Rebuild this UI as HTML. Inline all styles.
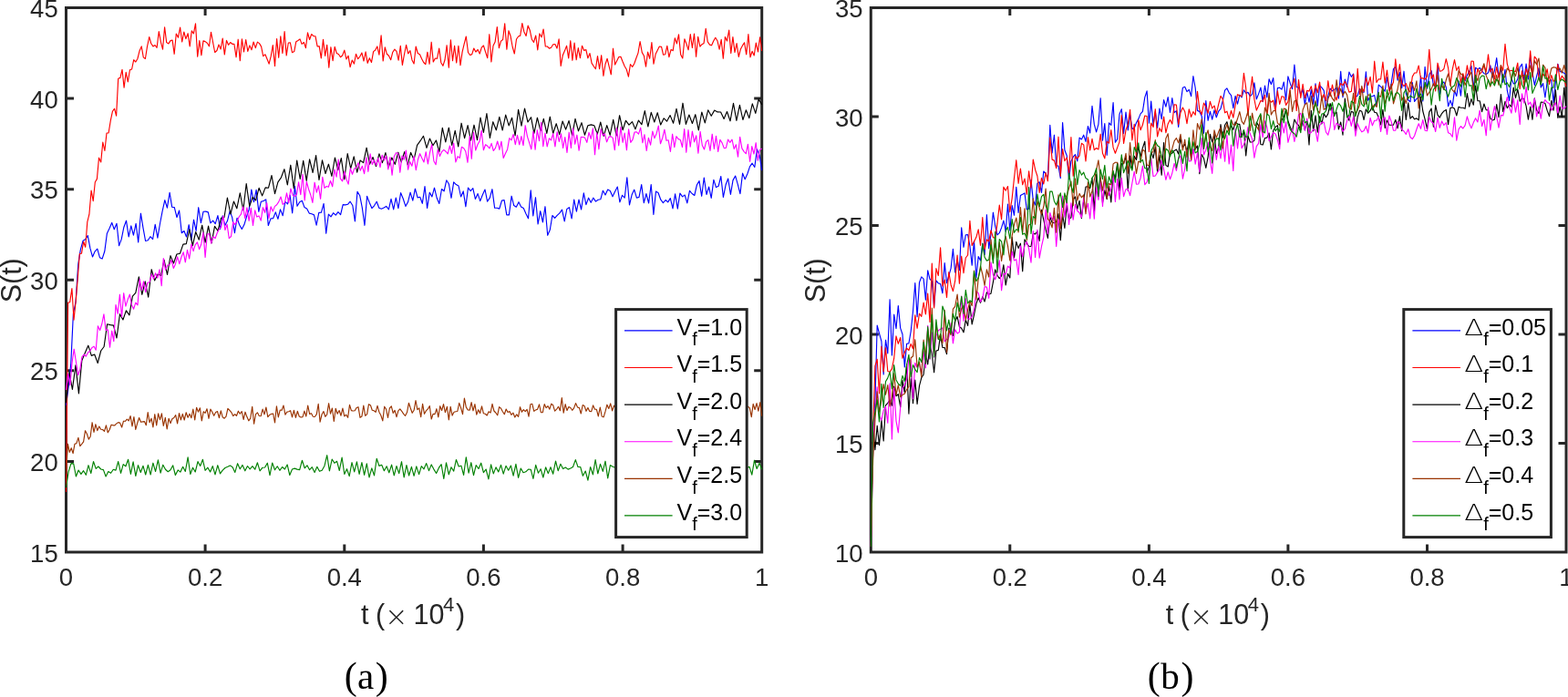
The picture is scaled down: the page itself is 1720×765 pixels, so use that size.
<!DOCTYPE html>
<html><head><meta charset="utf-8"><title>S(t) vs t</title>
<style>
html,body{margin:0;padding:0;background:#fff;}
svg{display:block;}
text{font-family:"Liberation Sans",Arial,Helvetica,sans-serif;}
.tl text{font-size:27.5px;fill:#262626;}
.lab{font-size:30.5px;fill:#262626;}
.sup{font-size:22px;}
.lg{font-size:25px;fill:#000;}
.sub{font-size:20px;}
.pl{font-family:"Liberation Serif","Times New Roman",serif;font-size:41px;fill:#000;}
.pp{font-size:42px;}
.tm{font-family:"DejaVu Sans",sans-serif;font-weight:200;}
.dl{font-family:"DejaVu Sans",sans-serif;font-weight:200;font-size:24.1px;fill:#000;}
</style></head>
<body>
<svg width="1720" height="765" viewBox="0 0 1720 765">
<rect width="1720" height="765" fill="#fff"/>
<clipPath id="clipa"><rect x="71.7" y="7.7" width="764.8" height="599.1"/></clipPath>
<path d="M225.1,606.0V597.5M225.1,8.5V17.0M377.8,606.0V597.5M377.8,8.5V17.0M530.4,606.0V597.5M530.4,8.5V17.0M683.1,606.0V597.5M683.1,8.5V17.0M72.5,506.4H81.0M835.7,506.4H827.2M72.5,406.8H81.0M835.7,406.8H827.2M72.5,307.2H81.0M835.7,307.2H827.2M72.5,207.7H81.0M835.7,207.7H827.2M72.5,108.1H81.0M835.7,108.1H827.2" stroke="#262626" stroke-width="3" fill="none"/>
<rect x="72.5" y="8.5" width="763.2" height="597.5" fill="none" stroke="#262626" stroke-width="3" stroke-linejoin="miter" stroke-linecap="square"/>
<g clip-path="url(#clipa)">
<polyline fill="none" stroke="#0000ff" stroke-width="1.15" stroke-linejoin="round" points="72.5,445.0 75.1,425.0 77.8,398.6 80.4,344.0 83.1,331.3 85.7,290.6 88.3,274.1 91.0,264.3 93.6,262.7 96.3,258.6 98.9,272.4 101.5,281.9 104.2,275.8 106.8,273.2 109.5,282.8 112.1,284.1 114.8,275.8 117.4,256.2 120.0,250.7 122.7,244.4 125.3,251.7 128.0,245.3 130.6,269.6 133.2,262.6 135.9,249.2 138.5,242.2 141.2,259.9 143.8,247.8 146.4,258.1 149.1,245.3 151.7,265.9 154.4,234.2 157.0,250.1 159.6,264.5 162.3,263.7 164.9,259.7 167.6,262.5 170.2,246.3 172.9,261.2 175.5,245.5 178.1,231.9 180.8,219.6 183.4,228.2 186.1,211.3 188.7,227.3 191.3,227.6 194.0,238.5 196.6,231.0 199.3,255.7 201.9,253.4 204.5,260.0 207.2,246.7 209.8,263.4 212.5,241.2 215.1,253.4 217.7,227.7 220.4,244.7 223.0,232.3 225.7,232.1 228.3,232.9 230.9,244.9 233.6,242.1 236.2,245.7 238.9,236.6 241.5,251.5 244.2,236.9 246.8,247.6 249.4,242.6 252.1,231.9 254.7,238.6 257.4,255.6 260.0,239.3 262.6,246.8 265.3,251.4 267.9,246.6 270.6,237.5 273.2,230.0 275.8,208.1 278.5,221.7 281.1,208.4 283.8,232.3 286.4,221.2 289.0,220.6 291.7,218.9 294.3,247.5 297.0,239.9 299.6,239.8 302.3,232.9 304.9,240.4 307.5,229.9 310.2,236.7 312.8,221.4 315.5,223.9 318.1,214.2 320.7,233.8 323.4,204.3 326.0,226.3 328.7,221.7 331.3,220.3 333.9,227.4 336.6,229.0 339.2,234.1 341.9,234.8 344.5,235.9 347.1,247.1 349.8,233.4 352.4,233.3 355.1,223.5 357.7,256.1 360.4,235.2 363.0,237.9 365.6,233.7 368.3,236.1 370.9,232.6 373.6,235.6 376.2,224.6 378.8,224.9 381.5,224.3 384.1,221.2 386.8,225.5 389.4,243.0 392.0,210.3 394.7,214.7 397.3,227.9 400.0,247.3 402.6,215.4 405.2,222.3 407.9,228.6 410.5,225.8 413.2,221.3 415.8,228.3 418.4,229.2 421.1,228.0 423.7,226.4 426.4,229.8 429.0,218.4 431.7,229.9 434.3,217.0 436.9,228.7 439.6,211.6 442.2,218.0 444.9,226.4 447.5,221.8 450.1,211.2 452.8,220.1 455.4,207.2 458.1,216.9 460.7,216.3 463.3,223.3 466.0,204.5 468.6,228.4 471.3,211.2 473.9,215.9 476.5,206.2 479.2,217.3 481.8,223.5 484.5,207.5 487.1,209.8 489.8,197.8 492.4,202.0 495.0,217.3 497.7,199.9 500.3,202.6 503.0,204.0 505.6,216.0 508.2,209.9 510.9,226.8 513.5,206.1 516.2,209.6 518.8,206.6 521.4,218.5 524.1,212.6 526.7,220.6 529.4,213.8 532.0,208.0 534.6,221.1 537.3,217.2 539.9,207.7 542.6,228.2 545.2,228.2 547.8,229.1 550.5,220.0 553.1,219.6 555.8,235.9 558.4,235.9 561.1,215.2 563.7,225.6 566.3,227.2 569.0,221.7 571.6,226.9 574.3,228.6 576.9,234.4 579.5,239.8 582.2,208.9 584.8,237.0 587.5,216.7 590.1,246.0 592.7,231.7 595.4,243.9 598.0,226.7 600.7,258.3 603.3,252.2 605.9,236.5 608.6,239.4 611.2,236.4 613.9,233.9 616.5,230.2 619.2,242.9 621.8,229.5 624.4,227.6 627.1,240.0 629.7,219.1 632.4,232.1 635.0,219.1 637.6,230.0 640.3,211.9 642.9,224.6 645.6,217.2 648.2,222.3 650.8,217.2 653.5,221.1 656.1,219.2 658.8,218.8 661.4,209.2 664.0,214.0 666.7,208.1 669.3,209.5 672.0,215.8 674.6,210.3 677.3,205.0 679.9,221.9 682.5,214.4 685.2,217.2 687.8,194.8 690.5,224.9 693.1,213.8 695.7,208.2 698.4,217.2 701.0,216.4 703.7,202.6 706.3,222.7 708.9,212.6 711.6,223.0 714.2,202.5 716.9,235.4 719.5,210.1 722.1,211.8 724.8,219.2 727.4,222.7 730.1,219.5 732.7,221.9 735.3,217.6 738.0,228.9 740.6,212.8 743.3,229.1 745.9,212.1 748.6,215.9 751.2,214.0 753.8,222.9 756.5,209.3 759.1,212.5 761.8,214.5 764.4,203.0 767.0,198.6 769.7,215.3 772.3,195.0 775.0,213.5 777.6,205.1 780.2,217.4 782.9,197.3 785.5,205.6 788.2,204.2 790.8,193.5 793.4,216.5 796.1,202.8 798.7,196.0 801.4,213.4 804.0,197.9 806.7,193.1 809.3,202.3 811.9,212.7 814.6,190.1 817.2,196.8 819.9,190.8 822.5,182.9 825.1,179.2 827.8,183.5 830.4,163.8 833.1,170.2 835.7,187.1"/>
<polyline fill="none" stroke="#ff0000" stroke-width="1.15" stroke-linejoin="round" points="72.5,540.0 74.6,332.1 76.7,331.7 78.9,316.5 81.0,351.3 83.1,330.9 85.2,306.6 87.3,278.5 89.5,278.2 91.6,265.3 93.7,271.2 95.8,243.6 97.9,235.2 100.1,209.0 102.2,220.6 104.3,200.0 106.4,196.4 108.5,173.2 110.7,177.9 112.8,156.0 114.9,165.5 117.0,146.0 119.1,146.0 121.3,132.4 123.4,122.3 125.5,119.2 127.6,127.1 129.7,86.3 131.9,85.4 134.0,76.4 136.1,96.2 138.2,79.4 140.3,89.8 142.5,76.6 144.6,76.0 146.7,65.7 148.8,68.0 150.9,64.5 153.1,55.7 155.2,50.9 157.3,62.9 159.4,64.5 161.5,51.2 163.7,40.5 165.8,47.8 167.9,50.9 170.0,49.5 172.1,52.3 174.3,34.5 176.4,46.2 178.5,54.2 180.6,29.8 182.7,46.6 184.9,47.9 187.0,44.6 189.1,44.1 191.2,59.3 193.3,37.0 195.5,41.2 197.6,30.0 199.7,46.0 201.8,35.0 203.9,42.6 206.1,36.7 208.2,51.0 210.3,33.9 212.4,36.9 214.5,25.8 216.7,62.1 218.8,44.5 220.9,60.6 223.0,44.8 225.1,45.6 227.3,47.2 229.4,50.8 231.5,35.4 233.6,46.5 235.7,57.5 237.9,55.5 240.0,49.0 242.1,53.9 244.2,42.0 246.3,60.0 248.5,44.4 250.6,49.3 252.7,46.5 254.8,48.3 256.9,48.3 259.1,62.8 261.2,43.2 263.3,66.7 265.4,42.9 267.5,57.0 269.7,43.5 271.8,56.4 273.9,49.9 276.0,54.7 278.1,46.0 280.3,52.6 282.4,46.1 284.5,47.6 286.6,51.1 288.7,61.6 290.9,59.8 293.0,64.8 295.1,70.1 297.2,61.7 299.3,49.6 301.5,72.5 303.6,42.6 305.7,63.3 307.8,39.9 309.9,58.5 312.1,34.6 314.2,60.9 316.3,47.0 318.4,46.9 320.5,57.7 322.7,56.6 324.8,45.7 326.9,44.5 329.0,42.9 331.1,48.4 333.3,46.5 335.4,52.6 337.5,35.9 339.6,43.5 341.7,37.5 343.9,39.6 346.0,39.8 348.1,50.9 350.2,50.7 352.3,63.9 354.5,43.4 356.6,61.3 358.7,49.4 360.8,74.2 362.9,51.7 365.1,66.7 367.2,51.3 369.3,58.5 371.4,59.5 373.5,62.7 375.7,60.8 377.8,55.1 379.9,64.9 382.0,61.2 384.1,73.6 386.3,66.0 388.4,70.1 390.5,59.3 392.6,64.6 394.7,62.3 396.9,57.9 399.0,67.0 401.1,56.8 403.2,69.3 405.3,63.7 407.5,68.4 409.6,56.6 411.7,55.0 413.8,50.9 415.9,60.2 418.1,38.8 420.2,66.9 422.3,51.9 424.4,59.3 426.5,61.2 428.7,65.7 430.8,57.2 432.9,54.1 435.0,56.4 437.1,66.2 439.3,50.4 441.4,71.4 443.5,59.5 445.6,49.3 447.7,58.8 449.9,55.6 452.0,65.9 454.1,70.0 456.2,51.0 458.3,58.5 460.5,59.8 462.6,64.4 464.7,68.5 466.8,70.7 468.9,57.2 471.1,70.3 473.2,46.2 475.3,68.0 477.4,64.0 479.5,64.3 481.7,53.1 483.8,68.7 485.9,72.3 488.0,65.8 490.1,49.7 492.3,74.2 494.4,43.8 496.5,66.6 498.6,50.3 500.7,69.0 502.9,50.3 505.0,71.7 507.1,57.2 509.2,48.2 511.3,40.0 513.5,57.5 515.6,60.5 517.7,59.6 519.8,53.0 521.9,57.0 524.1,54.5 526.2,59.0 528.3,52.1 530.4,50.0 532.5,56.8 534.7,63.7 536.8,37.7 538.9,68.0 541.0,50.3 543.1,46.1 545.3,29.6 547.4,52.6 549.5,45.1 551.6,43.5 553.7,25.8 555.9,54.1 558.0,33.7 560.1,39.8 562.2,51.5 564.3,59.0 566.5,43.0 568.6,40.0 570.7,39.1 572.8,25.5 574.9,34.9 577.1,39.4 579.2,28.1 581.3,33.3 583.4,43.3 585.5,46.4 587.7,39.0 589.8,54.8 591.9,36.9 594.0,40.8 596.1,32.0 598.3,51.0 600.4,51.0 602.5,53.1 604.6,52.2 606.7,48.8 608.9,48.6 611.0,53.1 613.1,42.9 615.2,72.4 617.3,60.7 619.5,55.6 621.6,50.3 623.7,63.9 625.8,44.7 627.9,66.3 630.1,47.0 632.2,65.6 634.3,52.5 636.4,63.6 638.5,50.3 640.7,55.4 642.8,54.5 644.9,63.9 647.0,58.5 649.1,69.4 651.3,72.8 653.4,75.6 655.5,61.6 657.6,75.6 659.7,60.7 661.9,83.3 664.0,70.5 666.1,64.3 668.2,73.1 670.3,81.8 672.5,53.2 674.6,71.0 676.7,66.7 678.8,62.5 680.9,62.2 683.1,67.8 685.2,72.8 687.3,76.3 689.4,84.2 691.5,70.5 693.7,73.4 695.8,69.8 697.9,63.8 700.0,58.1 702.1,45.5 704.3,57.6 706.4,61.2 708.5,73.1 710.6,57.1 712.7,64.3 714.9,46.6 717.0,70.2 719.1,59.6 721.2,55.3 723.3,51.1 725.5,51.2 727.6,60.1 729.7,59.7 731.8,50.4 733.9,62.6 736.1,54.4 738.2,55.6 740.3,41.8 742.4,47.9 744.5,37.9 746.7,60.1 748.8,64.0 750.9,42.8 753.0,48.2 755.1,54.8 757.3,37.5 759.4,52.5 761.5,37.0 763.6,62.3 765.7,40.4 767.9,51.2 770.0,48.7 772.1,47.4 774.2,31.4 776.3,45.9 778.5,49.1 780.6,49.8 782.7,45.0 784.8,41.3 786.9,44.7 789.1,54.1 791.2,43.4 793.3,64.3 795.4,40.6 797.5,44.9 799.7,33.0 801.8,58.4 803.9,40.5 806.0,57.4 808.1,47.6 810.3,62.4 812.4,53.9 814.5,49.9 816.6,46.8 818.7,59.8 820.9,37.6 823.0,62.8 825.1,56.3 827.2,61.0 829.3,47.1 831.5,56.9 833.6,40.9 835.7,56.0"/>
<polyline fill="none" stroke="#000000" stroke-width="1.15" stroke-linejoin="round" points="72.5,442.0 76.0,408.4 79.4,427.5 82.9,400.9 86.4,431.9 89.8,395.9 93.3,387.3 96.8,379.2 100.3,390.4 103.7,389.0 107.2,398.5 110.7,385.0 114.1,380.5 117.6,355.8 121.1,356.6 124.5,357.1 128.0,371.0 131.5,344.7 134.9,351.0 138.4,340.9 141.9,345.8 145.4,325.2 148.8,321.4 152.3,303.9 155.8,323.3 159.2,308.9 162.7,326.2 166.2,295.7 169.6,307.9 173.1,300.9 176.6,302.5 180.0,285.2 183.5,301.5 187.0,280.6 190.4,289.0 193.9,279.0 197.4,278.2 200.9,268.1 204.3,267.6 207.8,251.7 211.3,269.7 214.7,254.5 218.2,263.1 221.7,247.2 225.1,266.1 228.6,248.1 232.1,266.8 235.5,248.4 239.0,253.4 242.5,239.3 246.0,238.5 249.4,217.0 252.9,235.0 256.4,221.1 259.8,228.8 263.3,211.8 266.8,230.5 270.2,201.5 273.7,226.3 277.2,216.4 280.6,219.8 284.1,206.3 287.6,214.9 291.1,205.9 294.5,206.2 298.0,192.5 301.5,212.7 304.9,199.8 308.4,194.8 311.9,185.7 315.3,203.0 318.8,181.2 322.3,206.8 325.7,176.0 329.2,196.4 332.7,176.4 336.2,198.4 339.6,174.8 343.1,189.5 346.6,170.6 350.0,197.5 353.5,175.8 357.0,190.5 360.4,180.2 363.9,193.3 367.4,173.0 370.8,186.6 374.3,173.6 377.8,197.0 381.2,168.5 384.7,184.9 388.2,171.8 391.7,189.2 395.1,176.0 398.6,178.6 402.1,162.2 405.5,180.2 409.0,172.5 412.5,182.5 415.9,168.8 419.4,178.6 422.9,167.6 426.3,183.3 429.8,173.0 433.3,180.3 436.8,167.2 440.2,177.9 443.7,166.6 447.2,180.9 450.6,167.4 454.1,175.2 457.6,159.3 461.0,154.7 464.5,149.3 468.0,162.3 471.4,152.1 474.9,159.7 478.4,154.0 481.9,166.7 485.3,140.4 488.8,155.9 492.3,140.2 495.7,159.5 499.2,143.4 502.7,161.0 506.1,135.2 509.6,151.6 513.1,137.6 516.5,154.2 520.0,137.2 523.5,153.7 527.0,129.0 530.4,145.4 533.9,124.5 537.4,151.4 540.8,133.7 544.3,142.8 547.8,128.4 551.2,143.0 554.7,126.1 558.2,137.9 561.6,129.3 565.1,149.0 568.6,120.4 572.0,138.2 575.5,119.0 579.0,134.0 582.5,128.7 585.9,146.3 589.4,129.2 592.9,143.5 596.3,130.3 599.8,146.4 603.3,128.2 606.7,146.5 610.2,135.7 613.7,147.6 617.1,133.0 620.6,142.1 624.1,132.5 627.6,149.0 631.0,130.4 634.5,143.8 638.0,134.7 641.4,148.2 644.9,137.8 648.4,136.9 651.8,137.8 655.3,147.1 658.8,134.0 662.2,149.4 665.7,137.6 669.2,148.3 672.7,131.3 676.1,148.9 679.6,126.7 683.1,142.7 686.5,132.3 690.0,137.1 693.5,133.6 696.9,141.7 700.4,132.1 703.9,136.7 707.3,121.6 710.8,139.0 714.3,123.4 717.8,134.0 721.2,123.7 724.7,137.0 728.2,129.8 731.6,133.1 735.1,126.6 738.6,135.2 742.0,119.4 745.5,136.4 749.0,113.2 752.4,136.4 755.9,126.0 759.4,135.5 762.8,125.7 766.3,142.9 769.8,123.0 773.3,134.9 776.7,120.8 780.2,127.3 783.7,121.1 787.1,122.9 790.6,123.0 794.1,130.4 797.5,122.5 801.0,132.8 804.5,113.4 807.9,132.3 811.4,115.4 814.9,131.5 818.4,120.8 821.8,129.6 825.3,113.9 828.8,124.4 832.2,108.9 835.7,114.9"/>
<polyline fill="none" stroke="#ff00ff" stroke-width="1.15" stroke-linejoin="round" points="72.5,428.0 74.7,410.3 76.9,422.8 79.0,398.5 81.2,383.2 83.4,397.0 85.6,411.7 87.8,405.6 89.9,391.9 92.1,389.0 94.3,391.1 96.5,386.9 98.7,385.3 100.8,381.7 103.0,380.1 105.2,384.2 107.4,357.8 109.6,362.5 111.8,355.5 113.9,344.8 116.1,362.4 118.3,361.8 120.5,381.2 122.7,363.2 124.8,374.7 127.0,334.5 129.2,344.3 131.4,323.2 133.6,347.7 135.7,321.7 137.9,336.1 140.1,328.8 142.3,323.1 144.5,334.7 146.6,339.2 148.8,332.1 151.0,334.8 153.2,306.2 155.4,318.6 157.5,308.9 159.7,320.6 161.9,310.2 164.1,309.7 166.3,300.9 168.4,306.0 170.6,299.8 172.8,305.0 175.0,295.9 177.2,313.6 179.3,283.6 181.5,296.4 183.7,291.0 185.9,290.7 188.1,285.2 190.3,294.4 192.4,289.9 194.6,281.8 196.8,289.6 199.0,282.0 201.2,276.8 203.3,287.8 205.5,274.3 207.7,284.0 209.9,268.0 212.1,275.6 214.2,268.7 216.4,265.9 218.6,273.6 220.8,267.7 223.0,255.1 225.1,282.4 227.3,257.2 229.5,256.5 231.7,267.1 233.9,259.6 236.0,261.7 238.2,255.7 240.4,251.4 242.6,249.4 244.8,237.0 246.9,252.5 249.1,246.4 251.3,261.6 253.5,259.5 255.7,243.6 257.8,246.5 260.0,242.7 262.2,238.0 264.4,235.1 266.6,226.8 268.8,239.6 270.9,227.8 273.1,242.4 275.3,228.3 277.5,247.4 279.7,230.8 281.8,238.1 284.0,236.9 286.2,242.1 288.4,227.7 290.6,233.3 292.7,222.7 294.9,239.7 297.1,226.8 299.3,231.9 301.5,226.4 303.6,224.8 305.8,221.4 308.0,216.0 310.2,224.4 312.4,222.4 314.5,211.9 316.7,222.7 318.9,207.0 321.1,214.2 323.3,215.2 325.4,213.7 327.6,199.8 329.8,213.6 332.0,191.3 334.2,220.0 336.3,199.4 338.5,207.5 340.7,213.7 342.9,222.4 345.1,200.2 347.3,211.1 349.4,203.9 351.6,218.3 353.8,194.4 356.0,206.4 358.2,204.5 360.3,205.3 362.5,198.5 364.7,204.8 366.9,186.0 369.1,194.1 371.2,175.0 373.4,196.2 375.6,198.8 377.8,188.2 380.0,196.9 382.1,202.1 384.3,184.8 386.5,191.3 388.7,185.0 390.9,183.9 393.0,178.8 395.2,187.2 397.4,182.3 399.6,190.6 401.8,172.9 403.9,188.3 406.1,168.9 408.3,180.5 410.5,175.7 412.7,181.3 414.8,173.5 417.0,183.6 419.2,170.2 421.4,175.9 423.6,171.0 425.8,185.9 427.9,172.5 430.1,192.3 432.3,171.7 434.5,167.7 436.7,168.3 438.8,189.3 441.0,171.0 443.2,175.2 445.4,165.1 447.6,186.1 449.7,177.6 451.9,182.2 454.1,171.4 456.3,186.6 458.5,175.0 460.6,168.7 462.8,173.6 465.0,177.9 467.2,166.7 469.4,179.9 471.5,167.5 473.7,158.7 475.9,176.7 478.1,180.7 480.3,164.0 482.4,171.4 484.6,166.6 486.8,164.4 489.0,166.2 491.2,168.9 493.4,160.0 495.5,168.4 497.7,157.1 499.9,177.9 502.1,171.7 504.3,173.4 506.4,161.3 508.6,162.5 510.8,166.2 513.0,178.3 515.2,149.4 517.3,174.3 519.5,145.4 521.7,165.0 523.9,158.8 526.1,154.9 528.2,143.2 530.4,164.7 532.6,158.7 534.8,160.3 537.0,162.9 539.1,157.4 541.3,165.5 543.5,162.4 545.7,155.0 547.9,164.3 550.0,155.2 552.2,173.4 554.4,168.5 556.6,163.9 558.8,151.7 560.9,153.9 563.1,147.5 565.3,158.6 567.5,148.4 569.7,158.8 571.9,149.6 574.0,159.6 576.2,137.7 578.4,149.6 580.6,156.7 582.8,163.8 584.9,144.4 587.1,164.3 589.3,142.7 591.5,154.7 593.7,134.4 595.8,160.7 598.0,146.0 600.2,160.9 602.4,151.8 604.6,153.9 606.7,146.7 608.9,160.9 611.1,144.8 613.3,155.4 615.5,146.9 617.6,162.5 619.8,150.6 622.0,167.5 624.2,145.2 626.4,162.4 628.5,140.6 630.7,158.1 632.9,148.2 635.1,165.2 637.3,150.3 639.4,150.5 641.6,151.1 643.8,156.3 646.0,145.3 648.2,152.4 650.4,140.9 652.5,169.8 654.7,145.7 656.9,163.8 659.1,141.6 661.3,148.7 663.4,146.8 665.6,155.8 667.8,150.4 670.0,149.6 672.2,151.4 674.3,164.7 676.5,140.0 678.7,159.8 680.9,139.3 683.1,156.3 685.2,146.0 687.4,164.8 689.6,141.9 691.8,156.3 694.0,153.2 696.1,145.0 698.3,144.9 700.5,147.2 702.7,140.2 704.9,156.6 707.0,147.7 709.2,165.5 711.4,151.4 713.6,159.1 715.8,144.0 717.9,151.7 720.1,146.7 722.3,138.1 724.5,157.7 726.7,151.5 728.9,142.2 731.0,154.3 733.2,153.8 735.4,166.5 737.6,147.2 739.8,161.6 741.9,149.7 744.1,152.6 746.3,153.5 748.5,161.5 750.7,141.5 752.8,167.3 755.0,142.6 757.2,161.2 759.4,144.1 761.6,155.8 763.7,148.9 765.9,168.1 768.1,144.3 770.3,159.5 772.5,164.0 774.6,155.7 776.8,153.6 779.0,165.4 781.2,147.2 783.4,163.3 785.5,149.3 787.7,166.5 789.9,153.4 792.1,156.9 794.3,162.6 796.4,162.3 798.6,153.1 800.8,156.3 803.0,153.1 805.2,163.4 807.4,158.8 809.5,172.1 811.7,150.3 813.9,162.9 816.1,166.4 818.3,168.6 820.4,158.3 822.6,177.3 824.8,160.6 827.0,169.0 829.2,156.7 831.3,176.1 833.5,164.5 835.7,163.1"/>
<polyline fill="none" stroke="#993300" stroke-width="1.15" stroke-linejoin="round" points="72.5,520.0 74.4,487.2 76.3,496.4 78.2,491.7 80.1,497.6 82.0,487.2 83.9,486.6 85.9,480.4 87.8,489.6 89.7,487.3 91.6,484.9 93.5,472.7 95.4,476.3 97.3,482.1 99.2,479.0 101.1,463.7 103.0,474.5 104.9,465.7 106.8,472.6 108.8,468.0 110.7,471.3 112.6,471.5 114.5,473.3 116.4,466.9 118.3,474.8 120.2,471.5 122.1,466.2 124.0,466.8 125.9,466.8 127.8,464.9 129.7,463.6 131.6,464.1 133.6,469.0 135.5,462.2 137.4,462.3 139.3,460.1 141.2,461.8 143.1,456.5 145.0,468.0 146.9,457.6 148.8,471.4 150.7,464.3 152.6,458.5 154.5,463.2 156.5,462.9 158.4,462.6 160.3,466.7 162.2,452.6 164.1,463.7 166.0,459.2 167.9,468.8 169.8,454.7 171.7,466.9 173.6,453.9 175.5,460.6 177.4,453.9 179.3,467.3 181.3,458.4 183.2,471.0 185.1,459.3 187.0,464.6 188.9,459.8 190.8,458.5 192.7,455.6 194.6,464.9 196.5,453.5 198.4,460.9 200.3,454.3 202.2,461.0 204.2,452.7 206.1,458.2 208.0,454.2 209.9,458.7 211.8,449.0 213.7,461.0 215.6,447.3 217.5,452.1 219.4,447.8 221.3,461.8 223.2,451.8 225.1,453.4 227.0,448.7 229.0,459.3 230.9,449.1 232.8,452.3 234.7,456.3 236.6,452.4 238.5,451.5 240.4,458.7 242.3,450.8 244.2,457.8 246.1,459.2 248.0,457.2 249.9,448.3 251.9,450.4 253.8,452.6 255.7,456.6 257.6,454.7 259.5,456.3 261.4,451.2 263.3,454.2 265.2,451.5 267.1,460.5 269.0,452.2 270.9,457.6 272.8,461.8 274.7,459.2 276.7,446.4 278.6,465.2 280.5,454.7 282.4,452.8 284.3,456.5 286.2,456.7 288.1,449.1 290.0,454.8 291.9,447.0 293.8,457.6 295.7,455.3 297.6,454.4 299.6,454.0 301.5,464.0 303.4,445.8 305.3,457.9 307.2,450.1 309.1,450.3 311.0,445.0 312.9,455.2 314.8,452.1 316.7,451.7 318.6,450.7 320.5,457.8 322.4,450.4 324.4,458.4 326.3,451.3 328.2,457.0 330.1,458.0 332.0,457.6 333.9,451.1 335.8,457.0 337.7,445.0 339.6,454.4 341.5,453.7 343.4,457.2 345.3,457.5 347.3,454.7 349.2,443.3 351.1,463.1 353.0,455.0 354.9,451.5 356.8,457.3 358.7,454.9 360.6,442.7 362.5,454.2 364.4,448.0 366.3,462.5 368.2,448.3 370.1,454.2 372.1,450.5 374.0,456.2 375.9,448.1 377.8,456.9 379.7,455.2 381.6,458.3 383.5,444.4 385.4,450.6 387.3,451.0 389.2,450.8 391.1,447.5 393.0,446.7 395.0,458.3 396.9,457.1 398.8,445.0 400.7,456.3 402.6,454.6 404.5,443.7 406.4,444.7 408.3,450.2 410.2,450.7 412.1,452.3 414.0,445.4 415.9,452.2 417.8,455.8 419.8,461.9 421.7,446.2 423.6,449.1 425.5,458.5 427.4,448.0 429.3,445.8 431.2,453.4 433.1,450.4 435.0,457.6 436.9,450.8 438.8,448.8 440.7,451.3 442.7,454.4 444.6,456.3 446.5,452.6 448.4,442.3 450.3,448.0 452.2,453.3 454.1,450.3 456.0,439.5 457.9,449.7 459.8,447.9 461.7,457.7 463.6,443.4 465.5,454.3 467.5,450.7 469.4,448.9 471.3,445.6 473.2,460.0 475.1,454.3 477.0,454.6 478.9,448.7 480.8,457.8 482.7,445.7 484.6,450.5 486.5,443.6 488.4,452.6 490.4,446.3 492.3,460.8 494.2,446.4 496.1,456.1 498.0,452.2 499.9,451.7 501.8,451.5 503.7,442.4 505.6,447.6 507.5,454.7 509.4,437.1 511.3,446.9 513.2,450.0 515.2,450.1 517.1,441.6 519.0,450.8 520.9,443.6 522.8,455.1 524.7,449.8 526.6,453.5 528.5,445.8 530.4,453.8 532.3,454.3 534.2,456.0 536.1,451.8 538.1,453.0 540.0,443.3 541.9,451.0 543.8,453.0 545.7,455.8 547.6,446.6 549.5,448.3 551.4,451.7 553.3,454.7 555.2,449.0 557.1,452.5 559.0,451.6 560.9,455.3 562.9,453.2 564.8,458.0 566.7,454.9 568.6,457.3 570.5,446.7 572.4,452.2 574.3,449.7 576.2,451.7 578.1,449.3 580.0,457.1 581.9,443.7 583.8,443.3 585.8,451.4 587.7,449.9 589.6,449.3 591.5,443.9 593.4,452.7 595.3,452.7 597.2,443.5 599.1,447.7 601.0,445.6 602.9,449.2 604.8,443.2 606.7,444.8 608.6,451.1 610.6,449.2 612.5,446.3 614.4,450.7 616.3,436.6 618.2,453.1 620.1,443.6 622.0,450.5 623.9,446.4 625.8,447.5 627.7,450.3 629.6,447.9 631.5,442.6 633.5,447.0 635.4,447.6 637.3,454.0 639.2,444.6 641.1,445.6 643.0,451.3 644.9,447.4 646.8,451.5 648.7,451.6 650.6,444.9 652.5,449.2 654.4,449.3 656.3,456.9 658.3,447.0 660.2,457.0 662.1,457.8 664.0,451.7 665.9,444.2 667.8,448.5 669.7,442.9 671.6,450.9 673.5,445.2 675.4,446.9 677.3,450.4 679.2,443.5 681.2,443.3 683.1,461.3 685.0,452.0 686.9,455.3 688.8,450.2 690.7,460.7 692.6,450.0 694.5,452.7 696.4,442.8 698.3,451.9 700.2,444.8 702.1,449.3 704.0,444.2 706.0,452.1 707.9,446.3 709.8,455.8 711.7,442.6 713.6,451.3 715.5,455.6 717.4,453.8 719.3,453.4 721.2,456.9 723.1,454.0 725.0,454.9 726.9,442.2 728.9,450.5 730.8,446.6 732.7,445.8 734.6,445.7 736.5,446.2 738.4,440.2 740.3,452.8 742.2,447.6 744.1,450.0 746.0,443.4 747.9,449.0 749.8,445.7 751.7,449.6 753.7,446.8 755.6,449.7 757.5,448.7 759.4,455.1 761.3,449.1 763.2,448.9 765.1,444.7 767.0,452.8 768.9,445.8 770.8,451.3 772.7,437.2 774.6,441.3 776.6,447.8 778.5,452.5 780.4,453.3 782.3,454.0 784.2,447.8 786.1,451.7 788.0,438.6 789.9,455.1 791.8,443.3 793.7,453.0 795.6,447.0 797.5,452.2 799.4,450.5 801.4,448.3 803.3,445.3 805.2,448.1 807.1,445.0 809.0,457.5 810.9,444.0 812.8,456.1 814.7,448.9 816.6,454.4 818.5,449.8 820.4,446.1 822.3,447.6 824.3,457.6 826.2,443.3 828.1,449.5 830.0,442.6 831.9,451.2 833.8,441.5 835.7,456.8"/>
<polyline fill="none" stroke="#008000" stroke-width="1.15" stroke-linejoin="round" points="72.5,535.0 75.2,517.6 78.0,508.6 80.7,508.9 83.4,523.0 86.1,516.0 88.9,520.4 91.6,516.7 94.3,521.3 97.0,510.7 99.8,519.5 102.5,506.5 105.2,514.4 107.9,512.0 110.7,515.0 113.4,515.6 116.1,523.0 118.8,517.6 121.6,519.3 124.3,515.3 127.0,516.1 129.7,506.5 132.5,519.3 135.2,509.6 137.9,511.8 140.6,504.3 143.4,520.3 146.1,506.8 148.8,522.5 151.5,510.6 154.3,518.5 157.0,511.3 159.7,521.0 162.4,510.4 165.2,521.0 167.9,508.2 170.6,517.5 173.4,504.8 176.1,519.1 178.8,510.2 181.5,515.2 184.3,517.7 187.0,515.8 189.7,510.8 192.4,521.5 195.2,515.9 197.9,518.1 200.6,512.3 203.3,517.5 206.1,501.8 208.8,520.5 211.5,513.2 214.2,518.0 217.0,506.6 219.7,511.4 222.4,504.3 225.1,516.3 227.9,513.2 230.6,517.9 233.3,511.6 236.0,520.9 238.8,510.7 241.5,519.9 244.2,516.2 246.9,513.5 249.7,512.3 252.4,510.9 255.1,512.8 257.8,518.4 260.6,508.7 263.3,514.8 266.0,510.4 268.8,516.8 271.5,511.5 274.2,514.8 276.9,511.7 279.7,515.2 282.4,507.8 285.1,516.8 287.8,513.3 290.6,513.0 293.3,508.2 296.0,521.7 298.7,508.0 301.5,515.8 304.2,511.8 306.9,516.3 309.6,512.5 312.4,515.0 315.1,509.9 317.8,521.5 320.5,515.0 323.3,514.1 326.0,515.1 328.7,515.6 331.4,505.3 334.2,513.8 336.9,510.8 339.6,515.7 342.3,512.7 345.1,518.6 347.8,512.3 350.5,517.3 353.2,516.2 356.0,511.2 358.7,499.7 361.4,516.8 364.2,504.0 366.9,508.3 369.6,506.3 372.3,516.5 375.1,502.0 377.8,520.5 380.5,514.7 383.2,522.6 386.0,507.6 388.7,517.9 391.4,506.8 394.1,520.4 396.9,507.5 399.6,521.3 402.3,508.8 405.0,524.0 407.8,513.9 410.5,521.9 413.2,503.3 415.9,511.4 418.7,510.3 421.4,516.7 424.1,511.7 426.8,518.8 429.6,510.1 432.3,521.8 435.0,511.5 437.7,519.6 440.5,506.7 443.2,523.9 445.9,510.5 448.6,522.0 451.4,512.4 454.1,522.3 456.8,511.8 459.6,520.7 462.3,511.7 465.0,514.8 467.7,508.6 470.5,516.6 473.2,509.9 475.9,515.1 478.6,519.5 481.4,513.4 484.1,509.6 486.8,525.5 489.5,507.8 492.3,520.8 495.0,512.7 497.7,517.1 500.4,504.5 503.2,512.0 505.9,511.2 508.6,521.4 511.3,501.8 514.1,519.2 516.8,507.7 519.5,521.6 522.2,510.6 525.0,514.5 527.7,508.2 530.4,518.6 533.1,515.0 535.9,525.8 538.6,509.9 541.3,519.9 544.0,512.9 546.8,517.9 549.5,510.4 552.2,520.2 555.0,511.3 557.7,516.2 560.4,511.0 563.1,522.1 565.9,509.4 568.6,524.3 571.3,514.0 574.0,518.7 576.8,517.8 579.5,515.1 582.2,515.2 584.9,525.3 587.7,510.3 590.4,519.2 593.1,514.7 595.8,524.0 598.6,512.8 601.3,519.6 604.0,512.7 606.7,520.2 609.5,506.0 612.2,516.7 614.9,509.3 617.6,514.6 620.4,513.0 623.1,515.1 625.8,514.0 628.5,512.5 631.3,504.6 634.0,512.5 636.7,512.5 639.4,522.3 642.2,517.0 644.9,527.1 647.6,512.5 650.4,520.9 653.1,504.5 655.8,519.8 658.5,509.4 661.3,517.4 664.0,506.2 666.7,524.8 669.4,510.6 672.2,512.2 674.9,513.2 677.6,518.1 680.3,506.2 683.1,515.9 685.8,508.2 688.5,508.5 691.2,504.1 694.0,520.8 696.7,511.8 699.4,518.9 702.1,505.7 704.9,515.5 707.6,510.8 710.3,519.6 713.0,507.3 715.8,514.6 718.5,513.5 721.2,517.0 723.9,505.9 726.7,514.8 729.4,507.8 732.1,523.1 734.8,514.5 737.6,518.4 740.3,506.0 743.0,524.6 745.8,515.0 748.5,521.5 751.2,512.7 753.9,511.2 756.7,505.0 759.4,521.0 762.1,510.0 764.8,520.5 767.6,505.6 770.3,518.9 773.0,511.0 775.7,515.3 778.5,510.6 781.2,518.3 783.9,511.7 786.6,521.3 789.4,516.2 792.1,512.6 794.8,509.9 797.5,514.5 800.3,513.8 803.0,514.2 805.7,513.8 808.4,520.3 811.2,510.8 813.9,513.7 816.6,508.5 819.3,513.4 822.1,512.3 824.8,521.1 827.5,505.2 830.2,514.5 833.0,508.3 835.7,515.3"/>
</g>
<g class="tl"><text x="72.5" y="643.2" text-anchor="middle">0</text>
<text x="225.1" y="643.2" text-anchor="middle">0.2</text>
<text x="377.8" y="643.2" text-anchor="middle">0.4</text>
<text x="530.4" y="643.2" text-anchor="middle">0.6</text>
<text x="683.1" y="643.2" text-anchor="middle">0.8</text>
<text x="835.7" y="643.2" text-anchor="middle">1</text>
<text x="63.7" y="616.5" text-anchor="end">15</text>
<text x="63.7" y="516.9" text-anchor="end">20</text>
<text x="63.7" y="417.3" text-anchor="end">25</text>
<text x="63.7" y="317.8" text-anchor="end">30</text>
<text x="63.7" y="218.2" text-anchor="end">35</text>
<text x="63.7" y="118.6" text-anchor="end">40</text>
<text x="63.7" y="19.0" text-anchor="end">45</text></g>
<text class="lab" transform="translate(22.5,307.8) rotate(-90)" text-anchor="middle">S(t)</text>
<text class="lab" y="684.8"><tspan x="395.9">t</tspan><tspan x="412.0">(</tspan><tspan class="tm" x="422.0" dy="2">×</tspan><tspan x="453.5" dy="-2">10</tspan><tspan class="sup" x="486.0" dy="-14.2">4</tspan><tspan x="500.0" dy="14.2">)</tspan></text>
<text class="pl" y="755.8"><tspan class="pp" x="377.8">(</tspan><tspan x="391.9">a</tspan><tspan class="pp" x="411.8">)</tspan></text>
<rect x="675.6" y="339.6" width="143.6" height="250.0" fill="#fff" stroke="#262626" stroke-width="3"/>
<line x1="685" y1="362.9" x2="737.6" y2="362.9" stroke="#0000ff" stroke-width="1.15"/>
<text class="lg" x="742.5" y="367.6">V<tspan class="sub" dy="11.8">f</tspan><tspan dy="-11.8">=1.0</tspan></text>
<line x1="685" y1="403.5" x2="737.6" y2="403.5" stroke="#ff0000" stroke-width="1.15"/>
<text class="lg" x="742.5" y="408.2">V<tspan class="sub" dy="11.8">f</tspan><tspan dy="-11.8">=1.5</tspan></text>
<line x1="685" y1="444.1" x2="737.6" y2="444.1" stroke="#000000" stroke-width="1.15"/>
<text class="lg" x="742.5" y="448.8">V<tspan class="sub" dy="11.8">f</tspan><tspan dy="-11.8">=2.0</tspan></text>
<line x1="685" y1="484.7" x2="737.6" y2="484.7" stroke="#ff00ff" stroke-width="1.15"/>
<text class="lg" x="742.5" y="489.4">V<tspan class="sub" dy="11.8">f</tspan><tspan dy="-11.8">=2.4</tspan></text>
<line x1="685" y1="525.3" x2="737.6" y2="525.3" stroke="#993300" stroke-width="1.15"/>
<text class="lg" x="742.5" y="530.0">V<tspan class="sub" dy="11.8">f</tspan><tspan dy="-11.8">=2.5</tspan></text>
<line x1="685" y1="565.9" x2="737.6" y2="565.9" stroke="#008000" stroke-width="1.15"/>
<text class="lg" x="742.5" y="570.6">V<tspan class="sub" dy="11.8">f</tspan><tspan dy="-11.8">=3.0</tspan></text>
<clipPath id="clipb"><rect x="954.5" y="7.7" width="764.3" height="599.1"/></clipPath>
<path d="M1107.8,606.0V597.5M1107.8,8.5V17.0M1260.4,606.0V597.5M1260.4,8.5V17.0M1412.9,606.0V597.5M1412.9,8.5V17.0M1565.5,606.0V597.5M1565.5,8.5V17.0M955.3,486.5H963.8M1718.0,486.5H1709.5M955.3,367.0H963.8M1718.0,367.0H1709.5M955.3,247.5H963.8M1718.0,247.5H1709.5M955.3,128.0H963.8M1718.0,128.0H1709.5" stroke="#262626" stroke-width="3" fill="none"/>
<rect x="955.3" y="8.5" width="762.7" height="597.5" fill="none" stroke="#262626" stroke-width="3" stroke-linejoin="miter" stroke-linecap="square"/>
<g clip-path="url(#clipb)">
<polyline fill="none" stroke="#0000ff" stroke-width="1.15" stroke-linejoin="round" points="955.3,600.0 957.6,494.9 959.9,441.5 962.2,357.1 964.5,365.8 966.9,374.5 969.2,411.0 971.5,373.2 973.8,387.9 976.1,328.7 978.4,390.0 980.7,345.2 983.0,360.7 985.3,335.6 987.7,360.1 990.0,367.0 992.3,403.0 994.6,377.2 996.9,376.9 999.2,363.5 1001.5,341.8 1003.8,310.6 1006.1,347.6 1008.5,310.0 1010.8,303.9 1013.1,306.1 1015.4,329.1 1017.7,296.8 1020.0,306.3 1022.3,308.5 1024.6,336.8 1026.9,307.8 1029.3,310.9 1031.6,311.5 1033.9,321.8 1036.2,288.6 1038.5,310.6 1040.8,302.7 1043.1,294.6 1045.4,273.4 1047.7,299.0 1050.1,285.1 1052.4,296.7 1054.7,249.9 1057.0,271.3 1059.3,257.8 1061.6,257.6 1063.9,269.8 1066.2,291.1 1068.5,264.6 1070.9,305.3 1073.2,281.6 1075.5,285.9 1077.8,267.2 1080.1,279.4 1082.4,235.7 1084.7,272.6 1087.0,256.9 1089.4,233.2 1091.7,248.0 1094.0,257.9 1096.3,255.7 1098.6,249.9 1100.9,242.2 1103.2,254.1 1105.5,224.0 1107.8,253.0 1110.2,225.6 1112.5,236.3 1114.8,205.4 1117.1,233.5 1119.4,214.6 1121.7,213.3 1124.0,211.9 1126.3,229.9 1128.6,229.1 1131.0,197.3 1133.3,220.1 1135.6,225.0 1137.9,201.2 1140.2,199.7 1142.5,211.4 1144.8,188.0 1147.1,190.4 1149.4,196.4 1151.8,137.3 1154.1,167.9 1156.4,148.2 1158.7,181.9 1161.0,182.0 1163.3,195.6 1165.6,134.6 1167.9,164.7 1170.2,170.8 1172.6,196.6 1174.9,176.9 1177.2,172.2 1179.5,169.6 1181.8,176.9 1184.1,151.1 1186.4,153.0 1188.7,148.2 1191.0,155.3 1193.4,138.5 1195.7,146.0 1198.0,116.4 1200.3,136.4 1202.6,144.9 1204.9,136.3 1207.2,107.7 1209.5,154.1 1211.8,135.6 1214.2,170.3 1216.5,134.9 1218.8,137.4 1221.1,112.6 1223.4,156.3 1225.7,152.6 1228.0,125.2 1230.3,119.7 1232.6,146.4 1235.0,123.1 1237.3,142.9 1239.6,125.8 1241.9,141.4 1244.2,140.9 1246.5,134.8 1248.8,130.6 1251.1,124.9 1253.4,122.3 1255.8,106.9 1258.1,99.9 1260.4,135.2 1262.7,111.1 1265.0,137.8 1267.3,122.3 1269.6,140.4 1271.9,119.0 1274.2,130.6 1276.6,109.6 1278.9,117.1 1281.2,106.5 1283.5,123.3 1285.8,107.5 1288.1,123.6 1290.4,121.7 1292.7,139.4 1295.0,114.0 1297.4,96.2 1299.7,95.3 1302.0,100.6 1304.3,98.3 1306.6,105.7 1308.9,83.5 1311.2,96.5 1313.5,121.4 1315.8,122.4 1318.2,127.6 1320.5,146.3 1322.8,110.5 1325.1,132.3 1327.4,122.4 1329.7,131.2 1332.0,120.9 1334.3,128.8 1336.7,122.1 1339.0,119.4 1341.3,110.7 1343.6,99.1 1345.9,96.9 1348.2,101.8 1350.5,104.6 1352.8,118.6 1355.1,105.3 1357.5,114.1 1359.8,104.2 1362.1,106.8 1364.4,98.8 1366.7,102.3 1369.0,101.4 1371.3,105.6 1373.6,103.3 1375.9,90.9 1378.3,108.8 1380.6,103.1 1382.9,96.1 1385.2,111.6 1387.5,94.0 1389.8,106.9 1392.1,86.8 1394.4,92.5 1396.7,85.6 1399.1,117.8 1401.4,96.6 1403.7,96.2 1406.0,98.1 1408.3,90.0 1410.6,109.8 1412.9,83.9 1415.2,91.2 1417.5,97.6 1419.9,71.1 1422.2,95.7 1424.5,95.8 1426.8,104.1 1429.1,97.8 1431.4,114.8 1433.7,100.7 1436.0,112.1 1438.3,98.4 1440.7,114.4 1443.0,91.8 1445.3,116.1 1447.6,93.9 1449.9,96.2 1452.2,99.3 1454.5,120.6 1456.8,105.3 1459.1,97.2 1461.5,99.8 1463.8,98.5 1466.1,95.9 1468.4,108.1 1470.7,78.4 1473.0,106.8 1475.3,87.0 1477.6,95.5 1479.9,79.1 1482.3,84.3 1484.6,81.0 1486.9,106.7 1489.2,104.9 1491.5,97.5 1493.8,101.1 1496.1,101.3 1498.4,78.8 1500.7,110.2 1503.1,105.9 1505.4,105.7 1507.7,104.5 1510.0,115.8 1512.3,93.1 1514.6,95.2 1516.9,97.6 1519.2,100.2 1521.5,84.8 1523.9,99.0 1526.2,91.4 1528.5,75.6 1530.8,73.4 1533.1,88.2 1535.4,79.5 1537.7,96.6 1540.0,78.2 1542.3,102.5 1544.7,109.8 1547.0,111.7 1549.3,90.5 1551.6,111.4 1553.9,108.3 1556.2,107.4 1558.5,83.5 1560.8,110.9 1563.1,73.3 1565.5,97.2 1567.8,82.1 1570.1,77.7 1572.4,93.8 1574.7,94.1 1577.0,72.1 1579.3,103.5 1581.6,90.8 1583.9,90.1 1586.3,95.7 1588.6,116.6 1590.9,110.2 1593.2,116.5 1595.5,99.3 1597.8,105.5 1600.1,89.0 1602.4,105.1 1604.8,83.2 1607.1,88.9 1609.4,82.5 1611.7,78.6 1614.0,72.2 1616.3,98.1 1618.6,74.3 1620.9,75.9 1623.2,74.4 1625.6,78.0 1627.9,80.7 1630.2,81.5 1632.5,79.7 1634.8,71.8 1637.1,85.2 1639.4,77.6 1641.7,63.6 1644.0,84.3 1646.4,75.4 1648.7,90.5 1651.0,76.3 1653.3,99.1 1655.6,110.4 1657.9,86.0 1660.2,91.9 1662.5,91.3 1664.8,86.8 1667.2,73.6 1669.5,70.3 1671.8,87.5 1674.1,70.1 1676.4,86.9 1678.7,60.8 1681.0,79.7 1683.3,93.5 1685.6,83.6 1688.0,74.7 1690.3,95.9 1692.6,91.6 1694.9,107.0 1697.2,89.6 1699.5,88.5 1701.8,87.6 1704.1,112.6 1706.4,90.3 1708.8,70.2 1711.1,78.7 1713.4,78.6 1715.7,80.4 1718.0,81.6"/>
<polyline fill="none" stroke="#ff0000" stroke-width="1.15" stroke-linejoin="round" points="955.3,600.0 957.6,474.4 959.9,401.6 962.2,394.4 964.5,431.8 966.9,380.2 969.2,407.9 971.5,381.7 973.8,407.5 976.1,408.3 978.4,404.6 980.7,393.2 983.0,368.8 985.3,377.3 987.7,370.5 990.0,393.1 992.3,386.8 994.6,382.1 996.9,384.5 999.2,377.5 1001.5,382.8 1003.8,345.9 1006.1,360.3 1008.5,344.2 1010.8,347.4 1013.1,332.0 1015.4,345.0 1017.7,322.0 1020.0,353.5 1022.3,289.0 1024.6,338.0 1026.9,294.6 1029.3,302.5 1031.6,271.8 1033.9,314.0 1036.2,307.1 1038.5,326.4 1040.8,298.7 1043.1,312.7 1045.4,319.6 1047.7,308.2 1050.1,280.0 1052.4,311.2 1054.7,281.2 1057.0,299.7 1059.3,283.0 1061.6,280.0 1063.9,242.3 1066.2,269.4 1068.5,265.2 1070.9,260.3 1073.2,251.9 1075.5,269.3 1077.8,238.6 1080.1,274.0 1082.4,263.0 1084.7,264.9 1087.0,252.9 1089.4,260.6 1091.7,261.2 1094.0,245.2 1096.3,225.0 1098.6,240.8 1100.9,205.2 1103.2,209.2 1105.5,204.6 1107.8,232.6 1110.2,217.3 1112.5,195.4 1114.8,175.7 1117.1,201.3 1119.4,185.0 1121.7,202.7 1124.0,196.1 1126.3,213.3 1128.6,187.9 1131.0,206.1 1133.3,175.0 1135.6,186.2 1137.9,193.2 1140.2,211.4 1142.5,195.4 1144.8,202.0 1147.1,189.5 1149.4,198.8 1151.8,151.2 1154.1,175.1 1156.4,176.1 1158.7,184.6 1161.0,150.2 1163.3,193.5 1165.6,163.6 1167.9,176.6 1170.2,173.0 1172.6,190.1 1174.9,150.6 1177.2,193.3 1179.5,171.4 1181.8,173.9 1184.1,170.8 1186.4,157.3 1188.7,158.9 1191.0,177.0 1193.4,150.7 1195.7,164.8 1198.0,152.4 1200.3,164.7 1202.6,162.5 1204.9,163.9 1207.2,147.2 1209.5,168.2 1211.8,173.9 1214.2,155.2 1216.5,157.1 1218.8,142.6 1221.1,161.9 1223.4,168.2 1225.7,161.9 1228.0,155.6 1230.3,126.5 1232.6,157.5 1235.0,142.8 1237.3,136.3 1239.6,120.4 1241.9,154.0 1244.2,136.3 1246.5,174.5 1248.8,131.7 1251.1,142.7 1253.4,137.0 1255.8,127.0 1258.1,127.5 1260.4,166.4 1262.7,135.0 1265.0,139.6 1267.3,119.7 1269.6,149.9 1271.9,140.6 1274.2,144.7 1276.6,128.1 1278.9,145.7 1281.2,135.9 1283.5,131.5 1285.8,136.1 1288.1,114.7 1290.4,115.0 1292.7,136.4 1295.0,123.5 1297.4,118.0 1299.7,122.4 1302.0,135.7 1304.3,119.8 1306.6,128.4 1308.9,122.6 1311.2,126.2 1313.5,100.3 1315.8,120.1 1318.2,125.7 1320.5,113.0 1322.8,117.3 1325.1,124.2 1327.4,111.4 1329.7,118.9 1332.0,116.0 1334.3,125.0 1336.7,114.3 1339.0,105.4 1341.3,108.9 1343.6,123.8 1345.9,122.2 1348.2,130.6 1350.5,121.5 1352.8,129.2 1355.1,115.3 1357.5,103.7 1359.8,104.9 1362.1,105.7 1364.4,80.4 1366.7,96.7 1369.0,126.7 1371.3,102.9 1373.6,84.2 1375.9,109.0 1378.3,121.1 1380.6,115.9 1382.9,110.6 1385.2,111.3 1387.5,104.4 1389.8,126.6 1392.1,109.6 1394.4,112.2 1396.7,110.2 1399.1,122.1 1401.4,99.8 1403.7,114.4 1406.0,105.7 1408.3,106.2 1410.6,115.4 1412.9,111.6 1415.2,97.1 1417.5,94.4 1419.9,86.2 1422.2,121.4 1424.5,87.5 1426.8,107.4 1429.1,92.3 1431.4,107.5 1433.7,99.3 1436.0,100.1 1438.3,94.7 1440.7,106.2 1443.0,93.6 1445.3,101.6 1447.6,90.0 1449.9,110.3 1452.2,103.5 1454.5,110.7 1456.8,88.7 1459.1,105.6 1461.5,93.0 1463.8,104.6 1466.1,109.8 1468.4,98.1 1470.7,91.6 1473.0,93.6 1475.3,89.4 1477.6,93.7 1479.9,101.1 1482.3,100.4 1484.6,81.7 1486.9,113.4 1489.2,75.4 1491.5,103.6 1493.8,95.9 1496.1,100.4 1498.4,85.4 1500.7,93.5 1503.1,84.4 1505.4,102.0 1507.7,67.2 1510.0,90.5 1512.3,86.7 1514.6,87.0 1516.9,68.0 1519.2,91.1 1521.5,77.0 1523.9,99.4 1526.2,96.1 1528.5,90.0 1530.8,64.9 1533.1,86.2 1535.4,70.5 1537.7,91.1 1540.0,94.7 1542.3,91.5 1544.7,98.7 1547.0,101.0 1549.3,84.1 1551.6,80.0 1553.9,79.9 1556.2,72.0 1558.5,85.9 1560.8,85.7 1563.1,87.2 1565.5,83.9 1567.8,54.4 1570.1,86.1 1572.4,81.9 1574.7,99.9 1577.0,69.2 1579.3,78.1 1581.6,77.7 1583.9,75.5 1586.3,64.7 1588.6,74.7 1590.9,93.7 1593.2,76.4 1595.5,65.6 1597.8,77.3 1600.1,72.9 1602.4,90.9 1604.8,80.7 1607.1,87.9 1609.4,71.9 1611.7,83.7 1614.0,67.0 1616.3,67.3 1618.6,90.4 1620.9,75.3 1623.2,81.3 1625.6,78.6 1627.9,71.7 1630.2,79.0 1632.5,59.9 1634.8,79.0 1637.1,75.0 1639.4,86.6 1641.7,73.5 1644.0,85.4 1646.4,71.8 1648.7,77.3 1651.0,48.4 1653.3,70.1 1655.6,78.0 1657.9,77.3 1660.2,78.1 1662.5,78.4 1664.8,69.1 1667.2,97.7 1669.5,77.9 1671.8,94.4 1674.1,75.4 1676.4,82.3 1678.7,55.8 1681.0,84.7 1683.3,62.1 1685.6,64.8 1688.0,86.5 1690.3,91.3 1692.6,81.1 1694.9,84.2 1697.2,75.8 1699.5,92.5 1701.8,82.6 1704.1,89.3 1706.4,88.1 1708.8,70.6 1711.1,88.6 1713.4,83.3 1715.7,86.4 1718.0,95.1"/>
<polyline fill="none" stroke="#000000" stroke-width="1.15" stroke-linejoin="round" points="955.3,600.0 957.6,465.4 959.9,493.6 962.2,467.2 964.5,488.7 966.9,461.2 969.2,484.0 971.5,444.9 973.8,442.3 976.1,439.0 978.4,445.2 980.7,424.0 983.0,434.7 985.3,432.7 987.7,447.0 990.0,417.3 992.3,430.9 994.6,399.8 996.9,454.1 999.2,415.5 1001.5,442.7 1003.8,417.1 1006.1,443.4 1008.5,423.4 1010.8,414.6 1013.1,411.0 1015.4,388.3 1017.7,400.0 1020.0,377.9 1022.3,388.5 1024.6,408.8 1026.9,385.1 1029.3,384.3 1031.6,367.3 1033.9,381.5 1036.2,381.5 1038.5,388.6 1040.8,360.2 1043.1,361.5 1045.4,368.5 1047.7,352.7 1050.1,347.6 1052.4,358.7 1054.7,360.3 1057.0,364.8 1059.3,351.1 1061.6,357.4 1063.9,334.4 1066.2,355.9 1068.5,345.6 1070.9,333.3 1073.2,326.9 1075.5,332.3 1077.8,325.7 1080.1,331.0 1082.4,320.8 1084.7,323.0 1087.0,322.2 1089.4,309.7 1091.7,295.9 1094.0,302.2 1096.3,305.6 1098.6,302.9 1100.9,290.7 1103.2,313.0 1105.5,300.3 1107.8,304.9 1110.2,260.2 1112.5,282.8 1114.8,265.4 1117.1,272.4 1119.4,267.2 1121.7,297.8 1124.0,262.8 1126.3,267.1 1128.6,270.3 1131.0,270.5 1133.3,256.3 1135.6,256.9 1137.9,253.9 1140.2,264.4 1142.5,230.3 1144.8,241.3 1147.1,251.9 1149.4,261.4 1151.8,238.2 1154.1,244.3 1156.4,244.7 1158.7,243.6 1161.0,234.5 1163.3,263.7 1165.6,235.4 1167.9,250.5 1170.2,225.6 1172.6,240.5 1174.9,238.9 1177.2,219.1 1179.5,215.9 1181.8,229.6 1184.1,220.4 1186.4,239.7 1188.7,219.8 1191.0,205.0 1193.4,204.8 1195.7,206.6 1198.0,195.6 1200.3,232.0 1202.6,191.5 1204.9,213.8 1207.2,195.5 1209.5,222.4 1211.8,208.9 1214.2,218.6 1216.5,204.4 1218.8,221.9 1221.1,189.7 1223.4,195.3 1225.7,179.2 1228.0,209.2 1230.3,179.8 1232.6,179.4 1235.0,171.6 1237.3,209.2 1239.6,171.1 1241.9,185.4 1244.2,171.4 1246.5,175.5 1248.8,160.8 1251.1,171.7 1253.4,162.4 1255.8,155.2 1258.1,189.2 1260.4,183.2 1262.7,166.5 1265.0,173.7 1267.3,161.4 1269.6,188.7 1271.9,170.0 1274.2,192.2 1276.6,156.6 1278.9,181.4 1281.2,183.0 1283.5,168.4 1285.8,168.2 1288.1,165.4 1290.4,164.1 1292.7,169.0 1295.0,151.1 1297.4,161.9 1299.7,158.2 1302.0,166.3 1304.3,154.2 1306.6,172.4 1308.9,164.7 1311.2,163.6 1313.5,159.9 1315.8,190.7 1318.2,169.5 1320.5,173.8 1322.8,184.3 1325.1,172.1 1327.4,147.4 1329.7,155.9 1332.0,147.3 1334.3,168.5 1336.7,161.9 1339.0,136.5 1341.3,151.2 1343.6,137.3 1345.9,133.7 1348.2,143.2 1350.5,138.1 1352.8,142.3 1355.1,133.8 1357.5,136.2 1359.8,136.4 1362.1,150.6 1364.4,142.9 1366.7,171.0 1369.0,149.2 1371.3,156.0 1373.6,156.0 1375.9,154.1 1378.3,134.1 1380.6,137.9 1382.9,158.5 1385.2,159.0 1387.5,151.5 1389.8,151.1 1392.1,146.0 1394.4,164.0 1396.7,143.3 1399.1,139.5 1401.4,137.6 1403.7,158.4 1406.0,131.6 1408.3,128.5 1410.6,120.0 1412.9,132.6 1415.2,139.2 1417.5,144.6 1419.9,131.0 1422.2,135.6 1424.5,137.5 1426.8,142.5 1429.1,132.3 1431.4,143.0 1433.7,132.0 1436.0,158.9 1438.3,121.4 1440.7,143.8 1443.0,126.8 1445.3,145.2 1447.6,127.9 1449.9,136.0 1452.2,124.6 1454.5,128.7 1456.8,124.9 1459.1,113.5 1461.5,122.5 1463.8,125.1 1466.1,123.2 1468.4,141.9 1470.7,134.0 1473.0,148.2 1475.3,108.1 1477.6,125.9 1479.9,132.2 1482.3,122.4 1484.6,123.3 1486.9,143.7 1489.2,128.4 1491.5,121.2 1493.8,122.3 1496.1,131.5 1498.4,119.9 1500.7,124.2 1503.1,121.4 1505.4,116.7 1507.7,123.2 1510.0,123.8 1512.3,129.1 1514.6,136.9 1516.9,120.3 1519.2,140.5 1521.5,132.0 1523.9,137.2 1526.2,137.2 1528.5,137.1 1530.8,131.4 1533.1,140.8 1535.4,127.6 1537.7,143.6 1540.0,108.7 1542.3,131.5 1544.7,112.8 1547.0,130.2 1549.3,127.7 1551.6,130.8 1553.9,129.9 1556.2,131.8 1558.5,106.3 1560.8,122.0 1563.1,130.8 1565.5,141.6 1567.8,123.1 1570.1,119.1 1572.4,139.3 1574.7,115.5 1577.0,126.2 1579.3,129.1 1581.6,124.6 1583.9,121.9 1586.3,120.4 1588.6,136.6 1590.9,118.6 1593.2,117.8 1595.5,119.3 1597.8,126.9 1600.1,117.2 1602.4,118.2 1604.8,118.3 1607.1,119.2 1609.4,102.5 1611.7,117.2 1614.0,108.7 1616.3,115.2 1618.6,94.0 1620.9,110.6 1623.2,110.7 1625.6,122.6 1627.9,114.0 1630.2,120.6 1632.5,121.0 1634.8,129.9 1637.1,132.0 1639.4,131.2 1641.7,114.5 1644.0,128.7 1646.4,103.5 1648.7,122.5 1651.0,111.3 1653.3,118.6 1655.6,114.8 1657.9,117.1 1660.2,96.1 1662.5,107.3 1664.8,98.2 1667.2,111.2 1669.5,107.8 1671.8,108.6 1674.1,116.4 1676.4,131.2 1678.7,117.0 1681.0,131.3 1683.3,107.9 1685.6,120.9 1688.0,124.4 1690.3,112.1 1692.6,112.2 1694.9,113.5 1697.2,121.4 1699.5,127.6 1701.8,110.4 1704.1,121.2 1706.4,98.8 1708.8,129.3 1711.1,117.2 1713.4,128.3 1715.7,96.4 1718.0,119.4"/>
<polyline fill="none" stroke="#ff00ff" stroke-width="1.15" stroke-linejoin="round" points="955.3,600.0 957.6,482.4 959.9,451.6 962.2,424.7 964.5,456.1 966.9,461.2 969.2,450.5 971.5,446.3 973.8,464.2 976.1,420.8 978.4,482.0 980.7,425.9 983.0,461.8 985.3,475.0 987.7,447.0 990.0,425.9 992.3,422.6 994.6,416.1 996.9,393.2 999.2,396.3 1001.5,437.7 1003.8,398.3 1006.1,403.2 1008.5,399.1 1010.8,410.0 1013.1,385.2 1015.4,403.7 1017.7,357.3 1020.0,394.4 1022.3,364.9 1024.6,392.2 1026.9,368.8 1029.3,362.8 1031.6,361.2 1033.9,359.9 1036.2,374.8 1038.5,372.3 1040.8,370.2 1043.1,354.6 1045.4,376.8 1047.7,361.8 1050.1,365.9 1052.4,364.5 1054.7,325.1 1057.0,352.3 1059.3,327.7 1061.6,349.8 1063.9,350.1 1066.2,347.5 1068.5,339.5 1070.9,319.7 1073.2,321.6 1075.5,331.3 1077.8,327.2 1080.1,314.6 1082.4,315.1 1084.7,327.3 1087.0,287.9 1089.4,301.6 1091.7,306.8 1094.0,298.9 1096.3,285.9 1098.6,318.8 1100.9,300.4 1103.2,301.0 1105.5,292.1 1107.8,294.1 1110.2,276.0 1112.5,286.0 1114.8,284.7 1117.1,301.5 1119.4,269.9 1121.7,281.7 1124.0,269.6 1126.3,265.2 1128.6,273.2 1131.0,288.2 1133.3,253.6 1135.6,282.5 1137.9,252.2 1140.2,283.1 1142.5,270.4 1144.8,260.3 1147.1,230.1 1149.4,256.7 1151.8,233.5 1154.1,241.3 1156.4,237.3 1158.7,270.5 1161.0,240.7 1163.3,248.3 1165.6,215.1 1167.9,238.2 1170.2,218.2 1172.6,246.5 1174.9,222.9 1177.2,241.1 1179.5,224.3 1181.8,231.5 1184.1,233.5 1186.4,238.7 1188.7,216.9 1191.0,232.2 1193.4,223.4 1195.7,240.0 1198.0,213.0 1200.3,240.2 1202.6,205.8 1204.9,219.5 1207.2,195.0 1209.5,226.4 1211.8,195.7 1214.2,203.3 1216.5,214.5 1218.8,207.2 1221.1,191.7 1223.4,221.4 1225.7,196.6 1228.0,218.9 1230.3,195.3 1232.6,215.7 1235.0,207.7 1237.3,207.3 1239.6,214.6 1241.9,201.0 1244.2,188.3 1246.5,202.2 1248.8,202.0 1251.1,195.2 1253.4,182.2 1255.8,202.6 1258.1,199.9 1260.4,191.6 1262.7,173.7 1265.0,193.5 1267.3,193.0 1269.6,189.1 1271.9,186.1 1274.2,175.4 1276.6,185.8 1278.9,197.4 1281.2,188.8 1283.5,196.7 1285.8,190.1 1288.1,179.3 1290.4,187.3 1292.7,174.1 1295.0,170.8 1297.4,196.2 1299.7,185.5 1302.0,164.3 1304.3,176.9 1306.6,176.6 1308.9,163.1 1311.2,180.2 1313.5,167.7 1315.8,188.7 1318.2,151.6 1320.5,169.9 1322.8,164.5 1325.1,156.4 1327.4,175.6 1329.7,190.4 1332.0,158.1 1334.3,175.3 1336.7,160.6 1339.0,174.0 1341.3,155.3 1343.6,177.2 1345.9,148.5 1348.2,179.9 1350.5,159.1 1352.8,187.4 1355.1,141.0 1357.5,163.0 1359.8,142.9 1362.1,162.6 1364.4,158.5 1366.7,152.6 1369.0,139.6 1371.3,146.8 1373.6,152.7 1375.9,173.1 1378.3,160.6 1380.6,157.3 1382.9,136.8 1385.2,150.6 1387.5,132.8 1389.8,139.7 1392.1,154.7 1394.4,150.1 1396.7,145.5 1399.1,147.0 1401.4,153.6 1403.7,163.6 1406.0,133.9 1408.3,145.8 1410.6,133.9 1412.9,156.3 1415.2,147.6 1417.5,141.7 1419.9,155.4 1422.2,143.5 1424.5,126.0 1426.8,124.3 1429.1,133.4 1431.4,143.2 1433.7,130.0 1436.0,146.4 1438.3,145.5 1440.7,141.8 1443.0,142.8 1445.3,155.3 1447.6,137.8 1449.9,134.2 1452.2,134.0 1454.5,145.0 1456.8,148.2 1459.1,139.3 1461.5,117.8 1463.8,142.4 1466.1,135.2 1468.4,137.0 1470.7,138.0 1473.0,144.4 1475.3,141.3 1477.6,132.6 1479.9,126.9 1482.3,138.5 1484.6,128.1 1486.9,149.3 1489.2,135.6 1491.5,141.3 1493.8,144.8 1496.1,143.6 1498.4,138.5 1500.7,146.0 1503.1,129.3 1505.4,137.8 1507.7,132.3 1510.0,132.2 1512.3,127.7 1514.6,144.4 1516.9,131.2 1519.2,128.9 1521.5,147.5 1523.9,127.0 1526.2,133.6 1528.5,143.2 1530.8,143.2 1533.1,133.4 1535.4,134.7 1537.7,142.1 1540.0,144.0 1542.3,147.4 1544.7,141.7 1547.0,150.5 1549.3,152.6 1551.6,149.0 1553.9,142.0 1556.2,135.7 1558.5,141.3 1560.8,131.5 1563.1,143.2 1565.5,143.6 1567.8,128.4 1570.1,133.7 1572.4,135.2 1574.7,144.5 1577.0,129.1 1579.3,140.3 1581.6,133.0 1583.9,137.4 1586.3,134.6 1588.6,145.7 1590.9,146.7 1593.2,150.3 1595.5,128.9 1597.8,154.1 1600.1,141.9 1602.4,138.5 1604.8,141.0 1607.1,137.6 1609.4,127.9 1611.7,135.8 1614.0,140.7 1616.3,134.6 1618.6,129.7 1620.9,134.0 1623.2,121.2 1625.6,138.5 1627.9,131.3 1630.2,148.8 1632.5,117.9 1634.8,143.0 1637.1,128.4 1639.4,116.5 1641.7,127.9 1644.0,140.1 1646.4,126.4 1648.7,127.0 1651.0,117.7 1653.3,106.6 1655.6,117.8 1657.9,124.1 1660.2,107.9 1662.5,123.2 1664.8,109.9 1667.2,136.4 1669.5,102.9 1671.8,113.0 1674.1,95.5 1676.4,114.8 1678.7,112.2 1681.0,118.3 1683.3,108.1 1685.6,128.0 1688.0,116.9 1690.3,130.2 1692.6,114.2 1694.9,109.6 1697.2,112.4 1699.5,113.5 1701.8,121.2 1704.1,116.7 1706.4,112.7 1708.8,124.0 1711.1,105.1 1713.4,118.6 1715.7,119.0 1718.0,116.6"/>
<polyline fill="none" stroke="#993300" stroke-width="1.15" stroke-linejoin="round" points="955.3,600.0 957.6,505.7 959.9,460.7 962.2,429.7 964.5,452.2 966.9,439.2 969.2,421.7 971.5,433.1 973.8,422.6 976.1,445.9 978.4,434.8 980.7,409.7 983.0,433.6 985.3,422.7 987.7,435.6 990.0,433.3 992.3,432.2 994.6,427.6 996.9,424.3 999.2,392.8 1001.5,391.0 1003.8,372.7 1006.1,402.9 1008.5,397.1 1010.8,413.6 1013.1,373.0 1015.4,391.7 1017.7,360.9 1020.0,378.9 1022.3,338.0 1024.6,390.0 1026.9,355.4 1029.3,372.5 1031.6,366.7 1033.9,376.8 1036.2,340.6 1038.5,386.7 1040.8,362.2 1043.1,367.7 1045.4,339.2 1047.7,336.3 1050.1,323.0 1052.4,348.1 1054.7,338.8 1057.0,335.7 1059.3,351.2 1061.6,340.2 1063.9,330.7 1066.2,335.6 1068.5,297.1 1070.9,329.0 1073.2,305.7 1075.5,292.0 1077.8,301.1 1080.1,313.3 1082.4,295.9 1084.7,304.0 1087.0,262.8 1089.4,285.3 1091.7,266.7 1094.0,282.7 1096.3,265.7 1098.6,286.5 1100.9,269.1 1103.2,259.6 1105.5,269.8 1107.8,286.0 1110.2,258.4 1112.5,246.6 1114.8,239.1 1117.1,254.9 1119.4,227.6 1121.7,255.4 1124.0,228.8 1126.3,263.7 1128.6,246.9 1131.0,245.5 1133.3,217.9 1135.6,246.1 1137.9,220.6 1140.2,228.5 1142.5,235.2 1144.8,226.7 1147.1,207.1 1149.4,240.4 1151.8,243.0 1154.1,249.9 1156.4,228.3 1158.7,255.1 1161.0,213.9 1163.3,250.8 1165.6,236.2 1167.9,218.9 1170.2,214.6 1172.6,206.7 1174.9,199.1 1177.2,225.6 1179.5,196.0 1181.8,220.2 1184.1,212.4 1186.4,216.8 1188.7,213.9 1191.0,234.8 1193.4,199.8 1195.7,216.0 1198.0,209.7 1200.3,197.7 1202.6,186.6 1204.9,175.9 1207.2,196.5 1209.5,209.2 1211.8,193.1 1214.2,217.8 1216.5,201.4 1218.8,202.8 1221.1,179.9 1223.4,178.2 1225.7,178.3 1228.0,190.7 1230.3,173.0 1232.6,179.9 1235.0,168.3 1237.3,190.1 1239.6,156.6 1241.9,182.1 1244.2,173.5 1246.5,190.3 1248.8,177.1 1251.1,178.3 1253.4,164.1 1255.8,166.0 1258.1,181.0 1260.4,181.7 1262.7,168.3 1265.0,166.4 1267.3,153.6 1269.6,185.0 1271.9,162.7 1274.2,173.5 1276.6,178.0 1278.9,151.9 1281.2,146.7 1283.5,168.9 1285.8,163.2 1288.1,154.9 1290.4,151.5 1292.7,156.8 1295.0,147.4 1297.4,164.9 1299.7,153.2 1302.0,172.3 1304.3,156.3 1306.6,175.4 1308.9,142.8 1311.2,164.2 1313.5,135.5 1315.8,142.1 1318.2,130.6 1320.5,162.4 1322.8,149.6 1325.1,142.9 1327.4,160.4 1329.7,165.5 1332.0,142.9 1334.3,151.4 1336.7,144.6 1339.0,139.7 1341.3,162.9 1343.6,143.6 1345.9,136.4 1348.2,145.1 1350.5,131.5 1352.8,136.8 1355.1,137.4 1357.5,130.3 1359.8,122.6 1362.1,133.1 1364.4,136.3 1366.7,129.8 1369.0,121.8 1371.3,143.4 1373.6,124.2 1375.9,137.0 1378.3,138.4 1380.6,142.7 1382.9,126.4 1385.2,145.3 1387.5,118.0 1389.8,124.1 1392.1,102.2 1394.4,125.9 1396.7,121.8 1399.1,121.3 1401.4,135.2 1403.7,137.4 1406.0,128.2 1408.3,119.0 1410.6,120.0 1412.9,127.0 1415.2,99.3 1417.5,122.5 1419.9,111.1 1422.2,109.9 1424.5,118.5 1426.8,141.9 1429.1,120.6 1431.4,114.7 1433.7,112.8 1436.0,130.0 1438.3,105.2 1440.7,121.1 1443.0,110.6 1445.3,121.4 1447.6,124.1 1449.9,104.9 1452.2,120.3 1454.5,119.0 1456.8,108.6 1459.1,102.1 1461.5,108.2 1463.8,111.1 1466.1,87.7 1468.4,104.8 1470.7,97.3 1473.0,105.1 1475.3,100.3 1477.6,104.1 1479.9,117.9 1482.3,120.1 1484.6,102.3 1486.9,125.2 1489.2,120.8 1491.5,115.4 1493.8,94.4 1496.1,114.3 1498.4,114.0 1500.7,104.1 1503.1,104.2 1505.4,118.4 1507.7,114.7 1510.0,117.4 1512.3,104.9 1514.6,106.2 1516.9,94.0 1519.2,113.9 1521.5,105.8 1523.9,102.5 1526.2,92.1 1528.5,113.8 1530.8,106.0 1533.1,98.0 1535.4,84.1 1537.7,110.1 1540.0,105.8 1542.3,113.7 1544.7,102.6 1547.0,89.8 1549.3,92.9 1551.6,99.4 1553.9,88.8 1556.2,119.0 1558.5,95.1 1560.8,102.6 1563.1,92.4 1565.5,104.9 1567.8,101.2 1570.1,97.6 1572.4,91.8 1574.7,96.8 1577.0,82.4 1579.3,98.8 1581.6,93.8 1583.9,98.4 1586.3,87.7 1588.6,81.0 1590.9,92.9 1593.2,98.9 1595.5,101.1 1597.8,92.0 1600.1,77.6 1602.4,81.0 1604.8,82.8 1607.1,93.4 1609.4,87.9 1611.7,82.9 1614.0,79.2 1616.3,99.8 1618.6,83.0 1620.9,88.6 1623.2,77.7 1625.6,75.9 1627.9,69.8 1630.2,82.9 1632.5,88.6 1634.8,95.1 1637.1,78.8 1639.4,91.9 1641.7,82.4 1644.0,93.3 1646.4,71.5 1648.7,86.3 1651.0,84.0 1653.3,75.0 1655.6,77.4 1657.9,87.7 1660.2,78.6 1662.5,83.4 1664.8,74.7 1667.2,85.9 1669.5,83.0 1671.8,82.6 1674.1,90.1 1676.4,79.2 1678.7,71.9 1681.0,83.2 1683.3,66.7 1685.6,70.8 1688.0,64.0 1690.3,89.4 1692.6,71.2 1694.9,74.4 1697.2,90.3 1699.5,85.1 1701.8,75.1 1704.1,73.7 1706.4,74.1 1708.8,76.6 1711.1,75.1 1713.4,80.0 1715.7,71.6 1718.0,81.5"/>
<polyline fill="none" stroke="#008000" stroke-width="1.15" stroke-linejoin="round" points="955.3,600.0 957.6,464.0 959.9,452.3 962.2,438.8 964.5,463.0 966.9,421.4 969.2,447.5 971.5,418.8 973.8,414.9 976.1,408.3 978.4,426.8 980.7,400.5 983.0,416.9 985.3,421.3 987.7,423.4 990.0,412.4 992.3,418.4 994.6,400.5 996.9,389.3 999.2,414.1 1001.5,400.5 1003.8,405.3 1006.1,408.6 1008.5,392.5 1010.8,397.5 1013.1,375.6 1015.4,399.3 1017.7,358.5 1020.0,393.4 1022.3,345.4 1024.6,391.7 1026.9,350.9 1029.3,372.0 1031.6,373.7 1033.9,336.0 1036.2,342.6 1038.5,362.9 1040.8,351.0 1043.1,366.2 1045.4,344.4 1047.7,352.1 1050.1,332.0 1052.4,341.6 1054.7,325.3 1057.0,344.3 1059.3,318.4 1061.6,333.0 1063.9,329.8 1066.2,331.6 1068.5,297.9 1070.9,308.7 1073.2,304.9 1075.5,294.8 1077.8,267.4 1080.1,282.3 1082.4,286.1 1084.7,285.3 1087.0,268.5 1089.4,289.0 1091.7,254.4 1094.0,298.6 1096.3,262.6 1098.6,265.1 1100.9,279.9 1103.2,253.4 1105.5,249.3 1107.8,262.0 1110.2,240.6 1112.5,255.3 1114.8,251.7 1117.1,252.9 1119.4,238.6 1121.7,257.3 1124.0,256.1 1126.3,261.9 1128.6,205.6 1131.0,256.5 1133.3,237.6 1135.6,239.5 1137.9,213.1 1140.2,226.6 1142.5,215.7 1144.8,213.4 1147.1,225.5 1149.4,233.1 1151.8,210.1 1154.1,210.0 1156.4,220.7 1158.7,225.0 1161.0,218.2 1163.3,211.9 1165.6,227.6 1167.9,211.8 1170.2,222.8 1172.6,190.2 1174.9,203.8 1177.2,211.4 1179.5,176.6 1181.8,202.7 1184.1,186.6 1186.4,192.1 1188.7,189.2 1191.0,195.6 1193.4,196.9 1195.7,205.4 1198.0,195.2 1200.3,192.0 1202.6,184.8 1204.9,215.4 1207.2,186.0 1209.5,196.6 1211.8,181.3 1214.2,206.1 1216.5,193.9 1218.8,201.2 1221.1,187.4 1223.4,200.1 1225.7,180.2 1228.0,195.2 1230.3,169.8 1232.6,189.6 1235.0,183.2 1237.3,176.5 1239.6,181.3 1241.9,187.1 1244.2,161.5 1246.5,167.0 1248.8,156.9 1251.1,177.6 1253.4,175.3 1255.8,184.6 1258.1,184.8 1260.4,201.4 1262.7,165.8 1265.0,161.2 1267.3,155.2 1269.6,159.7 1271.9,161.3 1274.2,172.2 1276.6,181.6 1278.9,163.2 1281.2,165.0 1283.5,171.7 1285.8,164.9 1288.1,167.9 1290.4,184.1 1292.7,174.0 1295.0,164.1 1297.4,179.4 1299.7,166.2 1302.0,187.6 1304.3,151.1 1306.6,168.3 1308.9,155.7 1311.2,167.9 1313.5,166.3 1315.8,158.8 1318.2,136.9 1320.5,163.4 1322.8,145.6 1325.1,166.8 1327.4,155.5 1329.7,179.0 1332.0,157.1 1334.3,152.4 1336.7,151.9 1339.0,164.8 1341.3,144.8 1343.6,152.1 1345.9,143.0 1348.2,148.2 1350.5,131.7 1352.8,160.2 1355.1,145.7 1357.5,135.9 1359.8,150.4 1362.1,150.1 1364.4,142.9 1366.7,150.5 1369.0,149.8 1371.3,127.4 1373.6,138.1 1375.9,149.6 1378.3,135.6 1380.6,129.3 1382.9,124.7 1385.2,144.3 1387.5,145.9 1389.8,124.8 1392.1,126.9 1394.4,141.5 1396.7,132.6 1399.1,143.7 1401.4,140.5 1403.7,144.3 1406.0,119.0 1408.3,134.9 1410.6,120.0 1412.9,135.3 1415.2,142.1 1417.5,144.9 1419.9,146.8 1422.2,150.2 1424.5,139.2 1426.8,145.6 1429.1,124.5 1431.4,134.8 1433.7,133.2 1436.0,140.1 1438.3,131.0 1440.7,124.2 1443.0,112.9 1445.3,120.1 1447.6,134.5 1449.9,125.0 1452.2,124.6 1454.5,121.7 1456.8,113.7 1459.1,121.2 1461.5,112.6 1463.8,127.7 1466.1,119.9 1468.4,113.3 1470.7,116.2 1473.0,122.4 1475.3,112.4 1477.6,129.0 1479.9,126.2 1482.3,111.0 1484.6,112.4 1486.9,127.8 1489.2,118.5 1491.5,105.4 1493.8,114.3 1496.1,117.0 1498.4,105.7 1500.7,122.9 1503.1,102.7 1505.4,120.9 1507.7,116.2 1510.0,111.5 1512.3,101.4 1514.6,129.9 1516.9,97.9 1519.2,122.1 1521.5,98.5 1523.9,111.0 1526.2,99.8 1528.5,110.5 1530.8,102.7 1533.1,101.6 1535.4,104.1 1537.7,121.3 1540.0,101.9 1542.3,98.0 1544.7,108.3 1547.0,105.0 1549.3,106.7 1551.6,107.3 1553.9,97.4 1556.2,106.3 1558.5,103.0 1560.8,109.6 1563.1,90.3 1565.5,96.4 1567.8,89.1 1570.1,115.2 1572.4,98.1 1574.7,95.7 1577.0,93.2 1579.3,110.7 1581.6,86.4 1583.9,98.0 1586.3,99.5 1588.6,106.2 1590.9,98.1 1593.2,95.5 1595.5,93.8 1597.8,85.5 1600.1,90.0 1602.4,95.0 1604.8,86.0 1607.1,106.5 1609.4,85.7 1611.7,94.2 1614.0,93.6 1616.3,109.8 1618.6,82.4 1620.9,100.2 1623.2,86.0 1625.6,83.1 1627.9,83.2 1630.2,97.6 1632.5,87.3 1634.8,93.6 1637.1,89.7 1639.4,94.0 1641.7,86.9 1644.0,89.9 1646.4,96.3 1648.7,81.5 1651.0,92.9 1653.3,90.8 1655.6,95.4 1657.9,87.4 1660.2,73.8 1662.5,99.6 1664.8,96.6 1667.2,82.4 1669.5,92.7 1671.8,97.8 1674.1,82.1 1676.4,98.8 1678.7,79.6 1681.0,102.4 1683.3,96.6 1685.6,92.1 1688.0,84.8 1690.3,93.3 1692.6,72.2 1694.9,86.2 1697.2,85.6 1699.5,110.3 1701.8,96.0 1704.1,96.2 1706.4,81.8 1708.8,98.5 1711.1,89.1 1713.4,87.0 1715.7,89.0 1718.0,90.6"/>
</g>
<g class="tl"><text x="955.3" y="643.2" text-anchor="middle">0</text>
<text x="1107.8" y="643.2" text-anchor="middle">0.2</text>
<text x="1260.4" y="643.2" text-anchor="middle">0.4</text>
<text x="1412.9" y="643.2" text-anchor="middle">0.6</text>
<text x="1565.5" y="643.2" text-anchor="middle">0.8</text>
<text x="1718.0" y="643.2" text-anchor="middle">1</text>
<text x="946.5" y="616.5" text-anchor="end">10</text>
<text x="946.5" y="497.0" text-anchor="end">15</text>
<text x="946.5" y="377.5" text-anchor="end">20</text>
<text x="946.5" y="258.0" text-anchor="end">25</text>
<text x="946.5" y="138.5" text-anchor="end">30</text>
<text x="946.5" y="19.0" text-anchor="end">35</text></g>
<text class="lab" transform="translate(905.3,307.8) rotate(-90)" text-anchor="middle">S(t)</text>
<text class="lab" y="684.8"><tspan x="1278.7">t</tspan><tspan x="1294.8">(</tspan><tspan class="tm" x="1304.8" dy="2">×</tspan><tspan x="1336.3" dy="-2">10</tspan><tspan class="sup" x="1368.8" dy="-14.2">4</tspan><tspan x="1382.8" dy="14.2">)</tspan></text>
<text class="pl" y="755.5"><tspan class="pp" x="1258.8">(</tspan><tspan x="1273.2">b</tspan><tspan class="pp" x="1295.4">)</tspan></text>
<rect x="1539.8" y="339.6" width="161.6" height="250.0" fill="#fff" stroke="#262626" stroke-width="3"/>
<line x1="1549.4" y1="362.9" x2="1602" y2="362.9" stroke="#0000ff" stroke-width="1.15"/>
<text class="dl" transform="translate(1606.3,367.6) scale(1.28,1)">Δ</text>
<text class="lg" x="1627.2" y="379.4"><tspan class="sub">f</tspan><tspan dy="-11.8">=0.05</tspan></text>
<line x1="1549.4" y1="403.5" x2="1602" y2="403.5" stroke="#ff0000" stroke-width="1.15"/>
<text class="dl" transform="translate(1606.3,408.2) scale(1.28,1)">Δ</text>
<text class="lg" x="1627.2" y="420.1"><tspan class="sub">f</tspan><tspan dy="-11.8">=0.1</tspan></text>
<line x1="1549.4" y1="444.1" x2="1602" y2="444.1" stroke="#000000" stroke-width="1.15"/>
<text class="dl" transform="translate(1606.3,448.8) scale(1.28,1)">Δ</text>
<text class="lg" x="1627.2" y="460.6"><tspan class="sub">f</tspan><tspan dy="-11.8">=0.2</tspan></text>
<line x1="1549.4" y1="484.7" x2="1602" y2="484.7" stroke="#ff00ff" stroke-width="1.15"/>
<text class="dl" transform="translate(1606.3,489.4) scale(1.28,1)">Δ</text>
<text class="lg" x="1627.2" y="501.2"><tspan class="sub">f</tspan><tspan dy="-11.8">=0.3</tspan></text>
<line x1="1549.4" y1="525.3" x2="1602" y2="525.3" stroke="#993300" stroke-width="1.15"/>
<text class="dl" transform="translate(1606.3,530.0) scale(1.28,1)">Δ</text>
<text class="lg" x="1627.2" y="541.8"><tspan class="sub">f</tspan><tspan dy="-11.8">=0.4</tspan></text>
<line x1="1549.4" y1="565.9" x2="1602" y2="565.9" stroke="#008000" stroke-width="1.15"/>
<text class="dl" transform="translate(1606.3,570.6) scale(1.28,1)">Δ</text>
<text class="lg" x="1627.2" y="582.4"><tspan class="sub">f</tspan><tspan dy="-11.8">=0.5</tspan></text>
</svg>
</body></html>
